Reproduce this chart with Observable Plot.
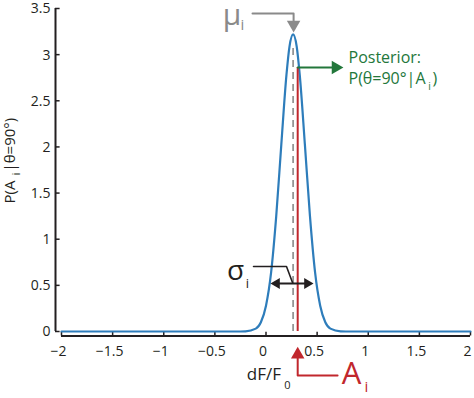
<!DOCTYPE html>
<html><head><meta charset="utf-8">
<script src="https://cdn.jsdelivr.net/npm/d3@7"></script>
<script src="https://cdn.jsdelivr.net/npm/@observablehq/plot@0.6"></script>
<style>body{margin:0;background:#fff} svg{display:block}</style>
</head><body><div id="chart"></div>
<script>
// Likelihood curve
const curveX = [-2, -0.3, -0.2, -0.1, -0.05, 0, 0.05, 0.1, 0.15, 0.2, 0.23, 0.265, 0.3, 0.33, 0.38, 0.43, 0.48, 0.53, 0.58, 0.63, 0.73, 0.83, 2];
const curveY = [0, 0, 0.002, 0.031, 0.10, 0.28, 0.64, 1.25, 2.03, 2.78, 3.09, 3.22, 3.09, 2.78, 2.03, 1.25, 0.64, 0.28, 0.10, 0.031, 0.002, 0, 0];
const xTicks = [-2, -1.5, -1, -0.5, 0, 0.5, 1, 1.5, 2];
const xTickLabels = ["−2", "−1.5", "−1", "−0.5", "0", "0.5", "1", "1.5", "2"];
const yTicks = [0, 0.5, 1, 1.5, 2, 2.5, 3, 3.5];
const yTickLabels = ["0", "0.5", "1", "1.5", "2", "2.5", "3", "3.5"];
const mu = 0.265, muTop = 3.12;      // mean of likelihood (dashed)
const amp = 0.31, ampTop = 2.86;     // observed amplitude A_i (red)

const curve = curveX.map((x, i) => ({x, y: curveY[i]}));
const xLeft = -2.0587;
const FONT = "'Open Sans', sans-serif";
const INK = "#231f20", BLUE = "#2e7dbb", RED = "#c1272d", GREEN = "#23773b", GRAY = "#8a8a8a";

const chart = Plot.plot({
  width: 474, height: 398,
  marginTop: 8, marginBottom: 67, marginLeft: 55, marginRight: 4,
  x: {domain: [xLeft, 2], axis: null},
  y: {domain: [0, 3.5], axis: null},
  style: {fontFamily: FONT, background: "#fff", color: INK},
  marks: [
    // axes
    Plot.ruleX([xLeft], {y1: 0, y2: 3.5, stroke: INK, strokeWidth: 2}),
    Plot.ruleY(yTicks, {x1: xLeft, x2: xLeft + 0.045, stroke: INK, strokeWidth: 1.5}),
    Plot.text(yTicks, {x: xLeft, y: d => d, text: (d, i) => yTickLabels[i], textAnchor: "end", dx: -5, dy: 0.5, fontSize: 14, fill: INK}),
    Plot.ruleY([0], {x1: -2, x2: 2, dy: 4.5, stroke: INK, strokeWidth: 2}),
    Plot.ruleX(xTicks, {y1: 0, y2: 0.04, dy: 4.5, stroke: INK, strokeWidth: 1.5}),
    Plot.text(xTicks, {x: d => d, y: 0, text: (d, i) => xTickLabels[i], dx: -3, dy: 20, fontSize: 14, fill: INK}),
    // axis titles
    Plot.text(["dF/F"], {x: -0.02, y: -0.466, text: d => d, fontSize: 17, fill: INK}),
    Plot.text(["0"], {x: 0.21, y: -0.585, text: d => d, fontSize: 11, fill: INK}),
    Plot.text(["P(A"], {x: -2.499, y: 1.387, text: d => d, rotate: -90, textAnchor: "start", fontSize: 15, fill: INK}),
    Plot.text(["i"], {x: -2.44, y: 1.7066, text: d => d, rotate: -90, fontSize: 10, fill: INK}),
    Plot.text(["|θ=90°)"], {x: -2.499, y: 1.7337, text: d => d, rotate: -90, textAnchor: "start", fontSize: 15, fill: INK}),
    // data
    Plot.ruleX([mu], {y1: 0, y2: muTop, stroke: GRAY, strokeWidth: 1.6, strokeDasharray: "7,5"}),
    Plot.line(curve, {x: "x", y: "y", stroke: BLUE, strokeWidth: 2.2, curve: "monotone-x"}),
    Plot.ruleX([amp], {y1: 0, y2: ampTop, stroke: RED, strokeWidth: 2}),
    // mu annotation
    Plot.text(["μ"], {x: -0.332, y: 3.43, text: d => d, fontSize: 30, fill: GRAY}),
    Plot.text(["i"], {x: -0.23, y: 3.316, text: d => d, fontSize: 15, fill: GRAY}),
    Plot.line([{x: -0.132, y: 3.446}, {x: mu + 0.005, y: 3.446}, {x: mu + 0.005, y: 3.33}], {x: "x", y: "y", stroke: GRAY, strokeWidth: 2}),
    Plot.dot([{x: mu + 0.005, y: 3.324}], {x: "x", y: "y", symbol: "triangle", rotate: 180, r: 5, fill: GRAY, stroke: null}),
    // posterior annotation
    Plot.line([{x: amp, y: ampTop}, {x: 0.68, y: ampTop}], {x: "x", y: "y", stroke: GREEN, strokeWidth: 2}),
    Plot.dot([{x: 0.681, y: ampTop}], {x: "x", y: "y", symbol: "triangle", rotate: 90, r: 5, fill: GREEN, stroke: null}),
    Plot.text(["Posterior:"], {x: 0.807, y: 2.963, text: d => d, textAnchor: "start", fontSize: 16, fill: GREEN}),
    Plot.text(["P(θ=90°|A"], {x: 0.807, y: 2.741, text: d => d, textAnchor: "start", fontSize: 16, fill: GREEN}),
    Plot.text(["i"], {x: 1.599, y: 2.655, text: d => d, fontSize: 10, fill: GREEN}),
    Plot.text([")"], {x: 1.628, y: 2.741, text: d => d, textAnchor: "start", fontSize: 16, fill: GREEN}),
    // sigma annotation
    Plot.text(["σ"], {x: -0.298, y: 0.656, text: d => d, fontSize: 28, fill: INK}),
    Plot.text(["i"], {x: -0.181, y: 0.52, text: d => d, fontSize: 13, fill: INK}),
    Plot.line([{x: -0.122, y: 0.704}, {x: 0.2005, y: 0.704}, {x: 0.259, y: 0.531}], {x: "x", y: "y", stroke: INK, strokeWidth: 1.6}),
    Plot.line([{x: 0.09, y: 0.52}, {x: 0.42, y: 0.52}], {x: "x", y: "y", stroke: INK, strokeWidth: 2}),
    Plot.dot([{x: 0.1046, y: 0.52}], {x: "x", y: "y", symbol: "triangle", rotate: 270, r: 4, fill: INK, stroke: null}),
    Plot.dot([{x: 0.4039, y: 0.52}], {x: "x", y: "y", symbol: "triangle", rotate: 90, r: 4, fill: INK, stroke: null}),
    // A_i annotation
    Plot.line([{x: amp, y: -0.24}, {x: amp, y: -0.477}, {x: 0.7, y: -0.477}], {x: "x", y: "y", stroke: RED, strokeWidth: 2}),
    Plot.dot([{x: amp, y: -0.25}], {x: "x", y: "y", symbol: "triangle", r: 5, fill: RED, stroke: null}),
    Plot.text(["A"], {x: 0.836, y: -0.466, text: d => d, fontSize: 31, fill: RED}),
    Plot.text(["i"], {x: 0.983, y: -0.6, text: d => d, fontSize: 15, fill: RED})
  ]
});
document.getElementById("chart").appendChild(chart);
</script>
</body></html>
